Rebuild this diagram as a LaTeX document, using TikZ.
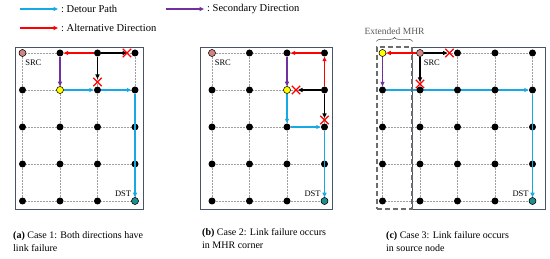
\documentclass[tikz,border=0pt]{standalone}
\usepackage{fontspec}
\setmainfont{Liberation Serif}
\usetikzlibrary{arrows.meta, positioning, calc, shapes.misc, backgrounds, decorations.pathreplacing}
\definecolor{detourblue}{HTML}{16A9E6}
\definecolor{secpurple}{HTML}{7030A0}
\definecolor{srcpink}{HTML}{D08585}
\definecolor{dstteal}{HTML}{238C8C}
\definecolor{mhryellow}{HTML}{FFFF00}
\definecolor{framegray}{HTML}{4A5468}

\begin{document}
\begin{tikzpicture}[
    x=1pt, y=-1pt,
    >={Triangle[length=4.5pt, width=4pt]},
    dot/.style={circle, fill=black, inner sep=0pt, minimum size=7pt},
    srcdot/.style={dot, draw=black, line width=0.5pt, fill=srcpink},
    mhrdot/.style={dot, draw=black, line width=0.5pt, fill=mhryellow},
    dstdot/.style={dot, draw=black, line width=0.5pt, fill=dstteal},
    link/.style={gray!75, densely dotted, line width=0.5pt},
    frame/.style={draw=framegray, line width=0.7pt, minimum height=162pt, inner sep=0pt},
    mhrbox/.style={draw=gray!85!black, dash pattern=on 5pt off 3pt, line width=1.3pt,
                   minimum width=35pt, minimum height=162pt, inner sep=0pt},
    detour/.style={->, detourblue, line width=1.1pt},
    second/.style={->, secpurple, line width=1.1pt},
    alt/.style={->, red, line width=1.1pt},
    blocked/.style={->, black, line width=1.1pt},
    fail/.style={cross out, draw=red, line width=1.4pt, minimum size=7pt, inner sep=0pt},
    lbl/.style={font=\fontsize{8.5}{10}\selectfont, inner sep=0pt},
    legtxt/.style={font=\fontsize{10.5}{12}\selectfont, anchor=west, inner sep=0pt},
    captxt/.style={font=\fontsize{10}{13}\selectfont, align=left, anchor=north west, inner sep=0pt},
]
\useasboundingbox (0,0) rectangle (550,259);
% === Legend ===
\coordinate (lgDs) at (20,9);
\node[legtxt] (lgD) at (61,9) {:\ Detour Path};
\draw[detour] (lgDs) -- ([xshift=-3pt]lgD.west);
\coordinate (lgSs) at (166,9);
\node[legtxt] (lgS) at (207,9) {:\ Secondary Direction};
\draw[second] (lgSs) -- ([xshift=-3pt]lgS.west);
\coordinate (lgAs) at (20,28);
\node[legtxt] (lgA) at (61,28) {:\ Alternative Direction};
\draw[alt] (lgAs) -- ([xshift=-3pt]lgA.west);
% === Frames ===
\node[frame, minimum width=128pt] (boxA) at (79,128) {};
\node[frame, minimum width=132pt] (boxB) at (266,128) {};
\node[frame, minimum width=133pt] (boxC) at (478.5,128) {};
\node[mhrbox] (mhr) at (394.5,128) {};
\draw[decorate, decoration={brace, amplitude=4pt}, gray!70!black, line width=0.6pt]
    ([yshift=5pt]mhr.north west) -- ([yshift=5pt]mhr.north east)
    node[midway, above=6pt, lbl, font=\fontsize{9.5}{11}\selectfont] (mhrlbl) {Extended MHR};
% === Grid nodes ===
\foreach \p/\x/\n in {a/22.5/3, b/212/3, c/382.5/4} {
  \foreach \i in {0,...,\n}
    \foreach \j in {0,...,4}
      \node[dot] (\p\i\j) at (\x+\i*37.5, 53+\j*37) {};
}
\begin{scope}[on background layer]
\foreach \p/\n in {a/3, b/3, c/4} {
  \foreach \i in {0,...,\n}
    \foreach \j in {0,...,4} {
      \pgfmathtruncatemacro\ni{\i+1}
      \pgfmathtruncatemacro\nj{\j+1}
      \ifnum\i<\n \draw[link] (\p\i\j) -- (\p\ni\j); \fi
      \ifnum\j<4 \draw[link] (\p\i\j) -- (\p\i\nj); \fi
    }
}
\end{scope}
% === Case 1 ===
\node[srcdot] (srcA) at (a00) {};
\node[mhrdot] (mhrA) at (a11) {};
\node[dstdot] (dstA) at (a34) {};
\node[lbl, below right=4pt and 0pt of srcA] (srcAl) {SRC};
\node[lbl, above left=1.5pt and 1pt of dstA] (dstAl) {DST};
\draw[alt] (a20) -- (a10);
\draw[blocked] (a20) -- ($(a30)+(-8,0)$) coordinate (bA1);
\draw[blocked] (a20) -- ($(a21)+(0,-11)$) coordinate (bA2);
\node[fail] (xA1) at ($(a30)+(-8,0)$) {};
\node[fail] (xA2) at ($(a21)+(0,-8)$) {};
\draw[second] (a10) -- (mhrA);
\draw[detour] (mhrA) -- (a21);
\draw[detour] (a21) -- (a31);
\draw[detour] (a31) -- (dstA);
% === Case 2 ===
\node[srcdot] (srcB) at (b00) {};
\node[mhrdot] (mhrB) at (b21) {};
\node[dstdot] (dstB) at (b34) {};
\node[lbl, below right=4pt and 0pt of srcB] (srcBl) {SRC};
\node[lbl, above left=1.5pt and 1pt of dstB] (dstBl) {DST};
\draw[blocked] (b31) -- ($(b21)+(11,0)$) coordinate (bB1);
\draw[blocked] (b31) -- ($(b32)+(0,-9)$) coordinate (bB2);
\node[fail] (xB1) at ($(b21)+(9,0)$) {};
\node[fail] (xB2) at ($(b32)+(0,-7)$) {};
\draw[alt] (b31) -- (b30);
\draw[alt] (b30) -- (b20);
\draw[second] (b20) -- (mhrB);
\draw[detour] (mhrB) -- (b22);
\draw[detour] (b22) -- (b32);
\draw[detour] (b32) -- (dstB);
% === Case 3 ===
\node[srcdot] (srcC) at (c10) {};
\node[mhrdot] (mhrC) at (c00) {};
\node[dstdot] (dstC) at (c44) {};
\node[lbl, below right=4pt and 1pt of srcC] (srcCl) {SRC};
\node[lbl, above left=1.5pt and 1pt of dstC] (dstCl) {DST};
\draw[alt] (srcC) -- (mhrC);
\draw[blocked] (srcC) -- ($(c20)+(-10,0)$) coordinate (bC1);
\draw[blocked] (srcC) -- ($(c11)+(0,-8)$) coordinate (bC2);
\node[fail] (xC1) at ($(c20)+(-8,0)$) {};
\node[fail] (xC2) at ($(c11)+(0,-6)$) {};
\draw[second] (mhrC) -- (c01);
\begin{scope}[on background layer]
\draw[detour] (c01) -- (c41);
\end{scope}
\draw[detour] (c41) -- (dstC);
% === Captions ===
\node[captxt] (capA) at (13,231) {\textbf{(a)} Case 1: Both directions have\\link failure};
\node[captxt] (capB) at (202,228) {\textbf{(b)} Case 2: Link failure occurs\\in MHR corner};
\node[captxt] (capC) at (386,231) {\textbf{(c)} Case 3: Link failure occurs\\in source node};
\end{tikzpicture}
\end{document}
